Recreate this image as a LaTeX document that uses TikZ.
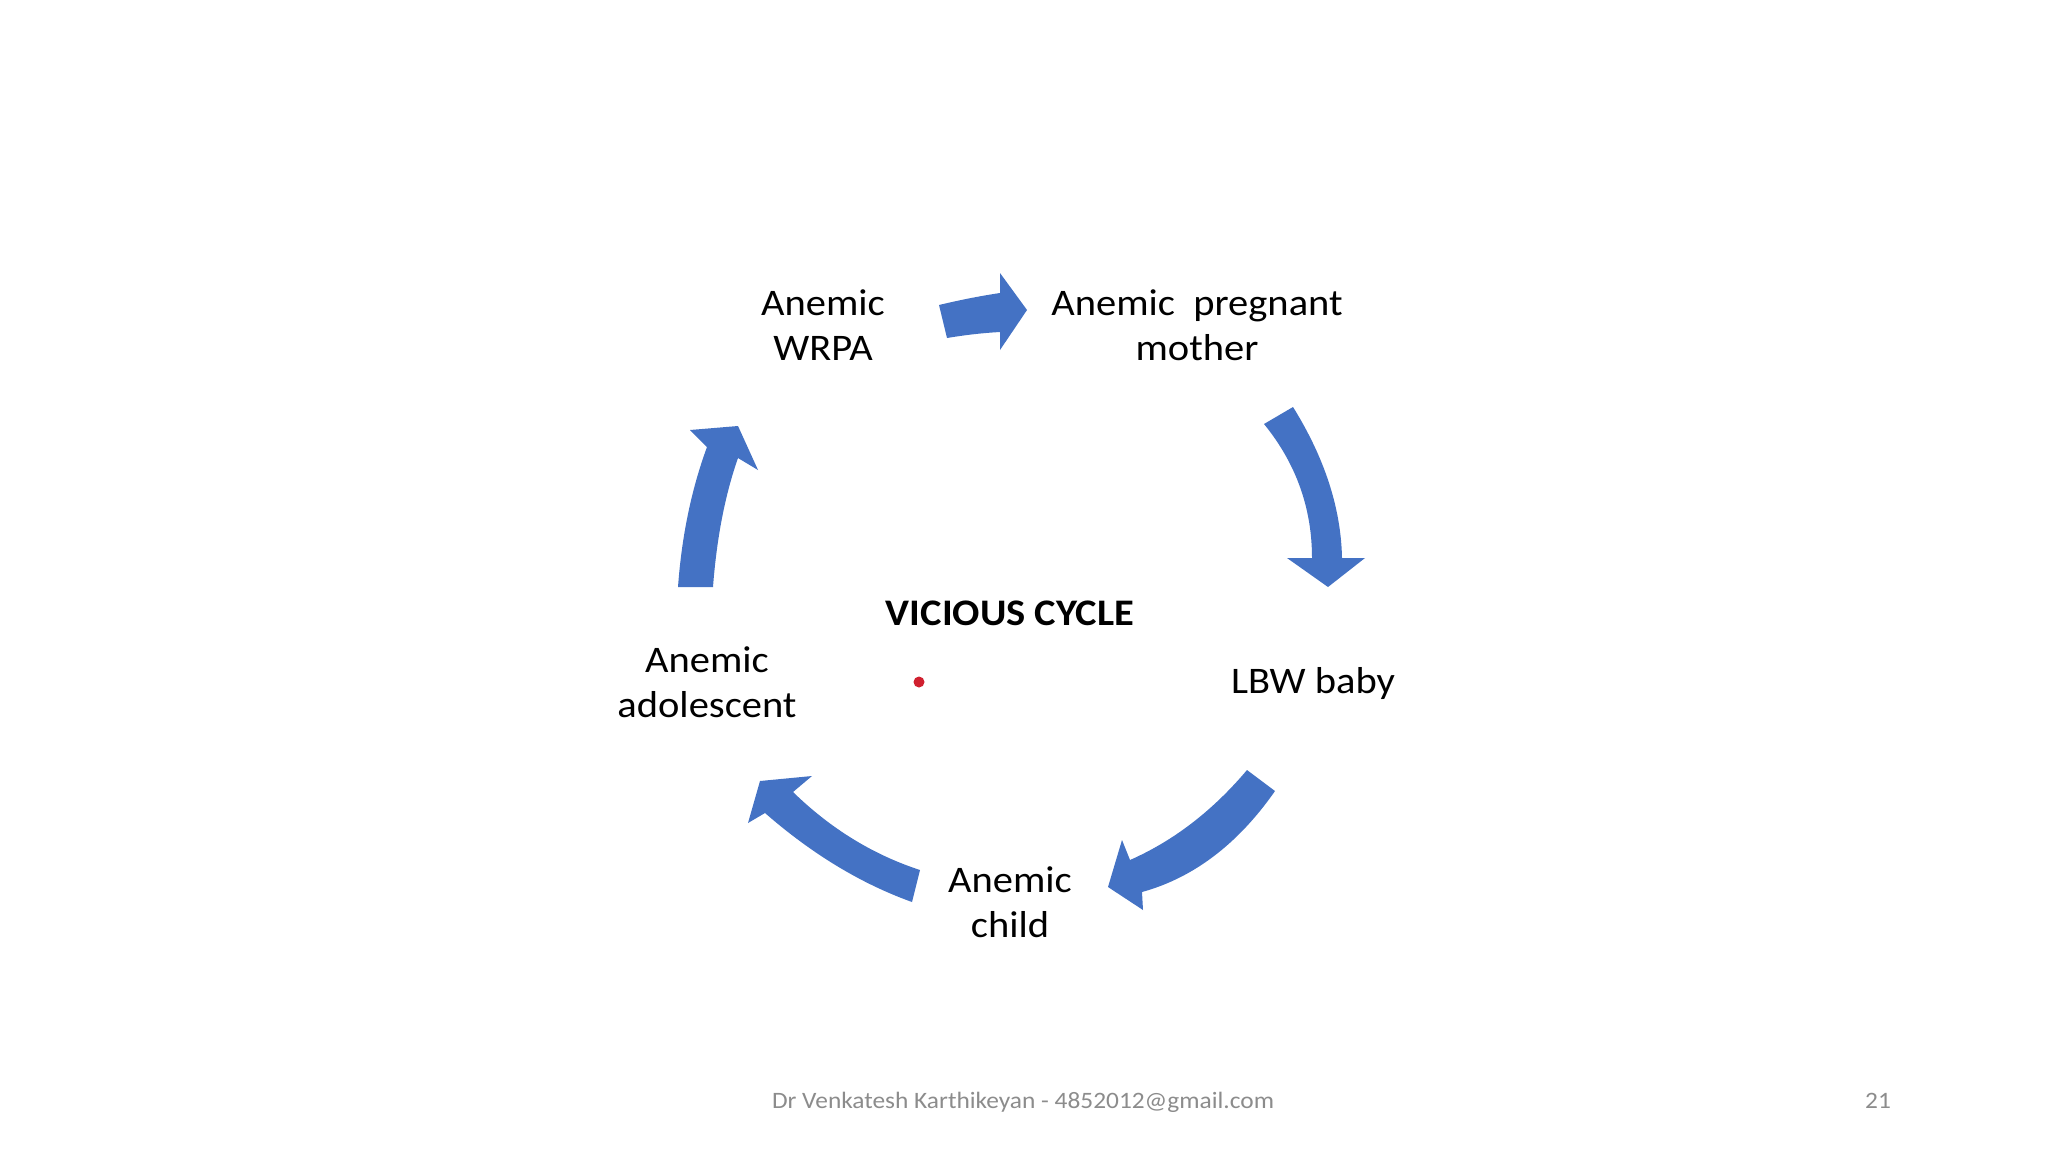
\documentclass[tikz,border=0pt]{standalone}
\usepackage{fontspec}
\setmainfont{Carlito}[FakeStretch=1.08]
\definecolor{arrowblue}{HTML}{4472C4}
\definecolor{footgrey}{HTML}{8C8C8C}
\definecolor{dotred}{HTML}{D0202F}
\tikzset{
  lbl/.style={font=\fontsize{37.5}{45.5}\selectfont, align=center, inner sep=0pt, text=black},
  title/.style={font=\fontsize{37.5}{45.5}\selectfont\bfseries, inner sep=0pt, text=black},
  foot/.style={font=\fontsize{23.5}{28}\selectfont, inner sep=0pt, text=footgrey},
  blockarrow/.style={fill=arrowblue, draw=none}
}
\begin{document}
\begin{tikzpicture}[x=1pt,y=-1pt]
\fill[white] (0,0) rectangle (2048,1152);
\useasboundingbox (0,0) rectangle (2048,1152);

% labels
\node[lbl] (wrpa) at (823,325) {Anemic\\WRPA};
\node[lbl] (mother) at (1197,325) {Anemic\ \ pregnant\\mother};
\node[lbl, anchor=base] (lbw) at (1313,693) {LBW baby};
\node[lbl] (child) at (1010,902) {Anemic\\child};
\node[lbl] (adol) at (707,682) {Anemic\\adolescent};
\node[title, anchor=base] (vc) at (1010,625) {VICIOUS CYCLE};
\fill[dotred] (919,682) circle (5.5);
\coordinate (dot) at (919,682);

% footer
\node[foot, anchor=base] (footer) at (1023,1108) {Dr Venkatesh Karthikeyan - 4852012@gmail.com};
\node[foot, anchor=base] (page) at (1878,1108) {21};

% arrow 1: WRPA -> mother
\fill[blockarrow] (947,338) -- (939,305)
  .. controls (960,300) and (980,296) .. (1000,293)
  -- (1000,273) -- (1027,310) -- (1000,350) -- (1000,332)
  .. controls (982,333) and (965,335) .. (947,338) -- cycle;

% arrow 2: mother -> LBW
\fill[blockarrow] (1264,424) -- (1293,407)
  .. controls (1324.7,458) and (1341,508.3) .. (1342,558)
  -- (1365,558) -- (1328,587) -- (1287,558) -- (1312,558)
  .. controls (1312,508) and (1296,463.3) .. (1264,424) -- cycle;

% arrow 3: LBW -> child
\fill[blockarrow] (1247,770) -- (1275,791)
  .. controls (1238,844) and (1193.7,877.7) .. (1142,892)
  -- (1143,910) -- (1108,887) -- (1122,840) -- (1130,860)
  .. controls (1173.7,840.7) and (1212.7,810.7) .. (1247,770) -- cycle;

% arrow 4: child -> adolescent
\fill[blockarrow] (920,870) -- (912,902)
  .. controls (861,883.7) and (812,854) .. (765,813)
  -- (748,823) -- (760,781) -- (812,776) -- (793,792)
  .. controls (830.7,828.7) and (873,854.7) .. (920,870) -- cycle;

% arrow 5: adolescent -> WRPA
\fill[blockarrow] (678,587)
  .. controls (681.7,536.3) and (691.3,489.7) .. (707,447)
  -- (690,430) -- (738,426) -- (758,470) -- (738,458)
  .. controls (725,495) and (716.7,538) .. (713,587) -- cycle;
\end{tikzpicture}
\end{document}
